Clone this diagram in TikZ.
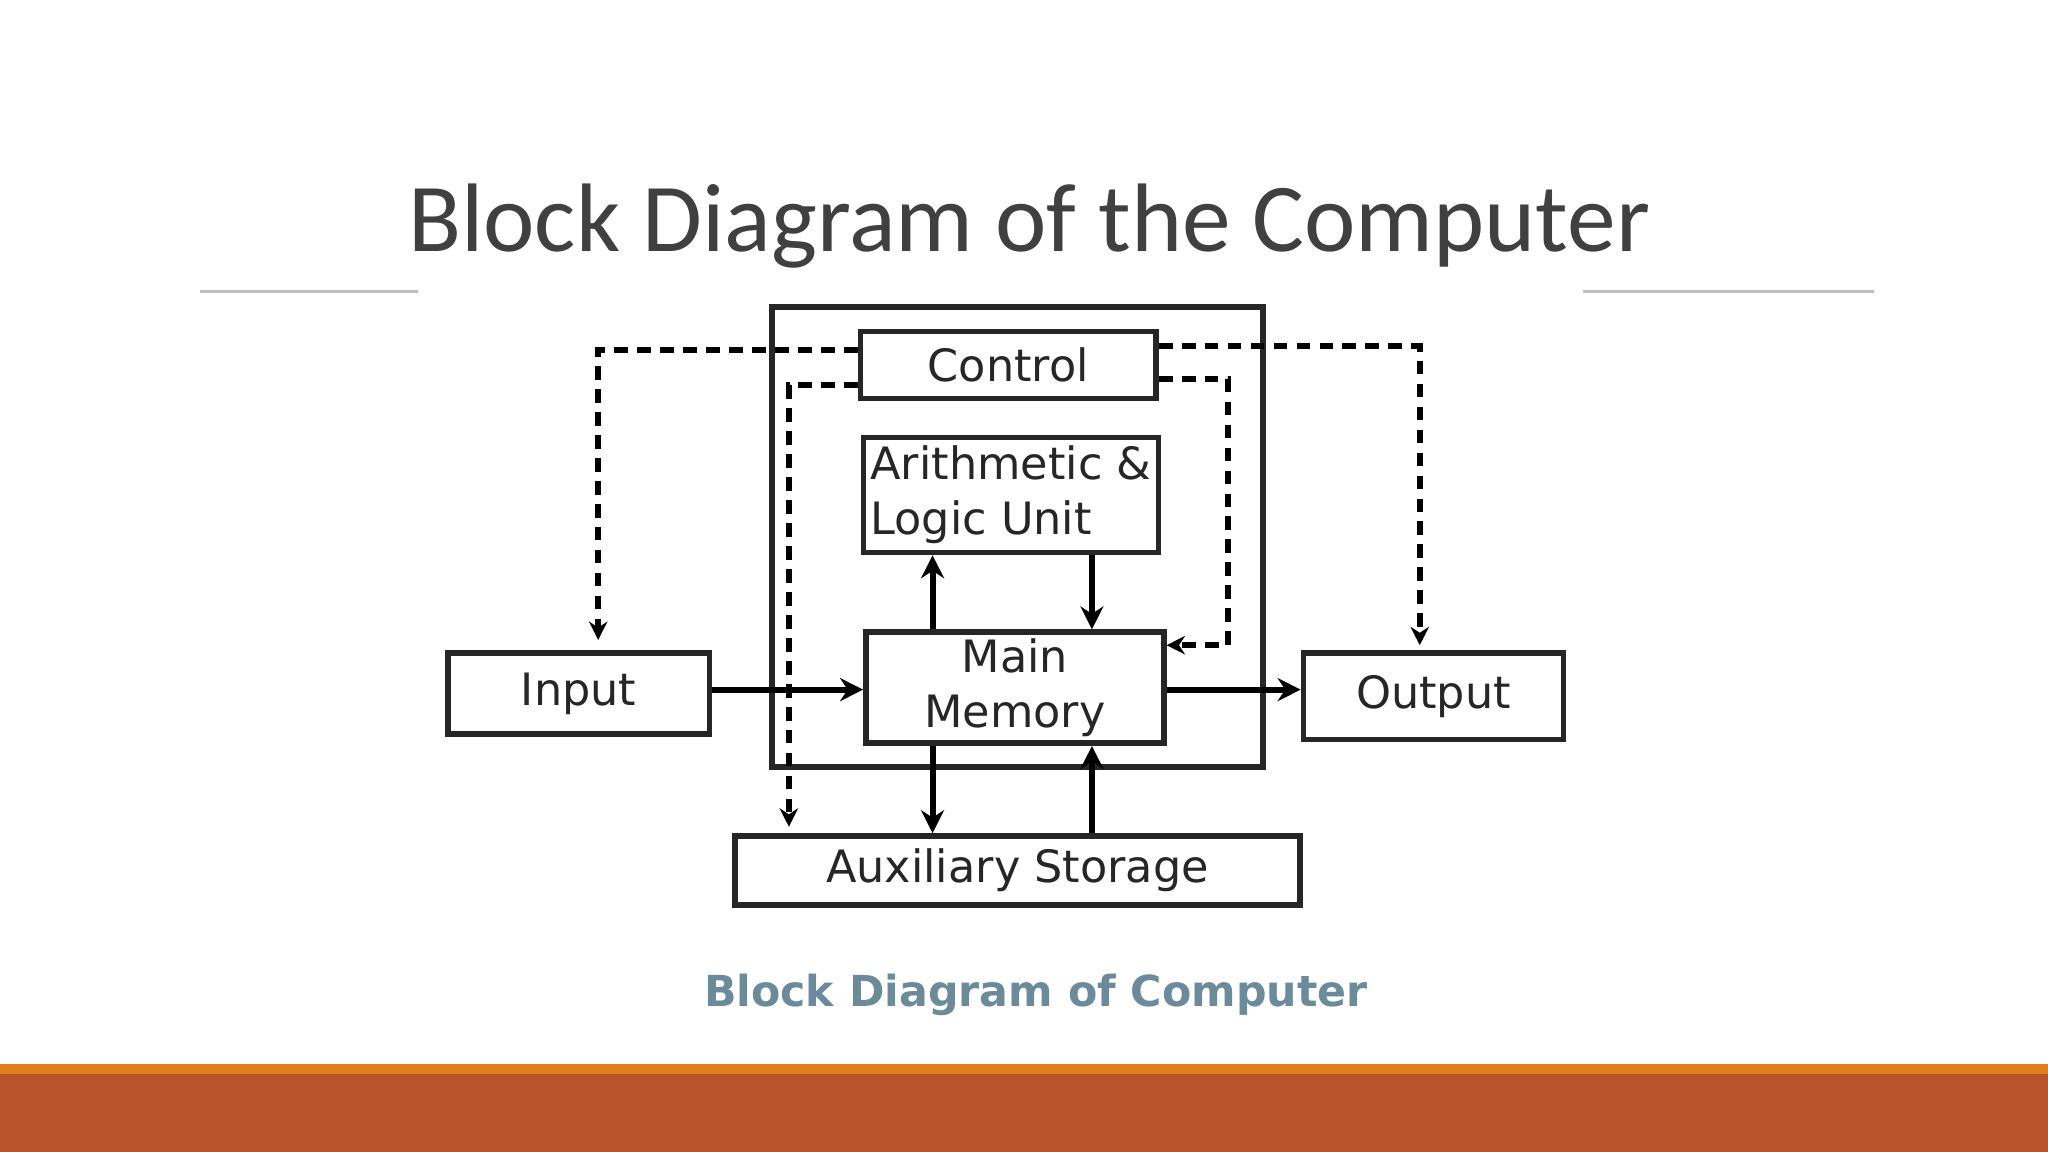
\documentclass[tikz,border=0pt]{standalone}
\usepackage{fontspec}
\setmainfont{DejaVu Sans}
\newfontfamily\titlefont{Carlito}
\usetikzlibrary{arrows.meta}
\definecolor{titlegray}{HTML}{404040}
\definecolor{capblue}{HTML}{6B8A9A}
\definecolor{barorange}{HTML}{E0801C}
\definecolor{barrust}{HTML}{B9552B}
\begin{document}
\begin{tikzpicture}[x=0.01cm,y=-0.01cm,
  blk/.style={draw=black!85,line width=1.2pt,inner sep=0pt,font=\fontsize{9.7}{12}\selectfont,text=black!85},
  sol/.style={line width=1.3pt,-{Stealth[length=5pt,width=5pt]}},
  dsh/.style={line width=1.3pt,dash pattern=on 3pt off 2pt,-{Stealth[length=4pt,width=4pt]}}]
\useasboundingbox (0,0) rectangle (1568,882);
\fill[barorange] (0,815) rectangle (1568,822);
\fill[barrust] (0,822) rectangle (1568,882);
\node[text=titlegray,font=\titlefont\fontsize{21.2}{25}\selectfont] (title) at (788,173) {Block Diagram of the Computer};
\draw[black!25,line width=0.6pt] (153,223) -- (320,223) (1212,223) -- (1435,223);
\node[draw=black!85,line width=1.2pt,minimum width=3.76cm,minimum height=3.52cm,inner sep=0pt] (outer) at (779,411) {};
\node[blk,minimum width=2.26cm,minimum height=0.51cm] (ctrl) at (772,279.5) {Control};
\node[blk,minimum width=2.26cm,minimum height=0.88cm,align=left] (alu) at (774,379) {Arithmetic \&\\Logic Unit};
\node[blk,minimum width=2.28cm,minimum height=0.85cm,align=center] (mm) at (777,526.5) {Main\\Memory};
\node[blk,minimum width=2.00cm,minimum height=0.62cm] (in) at (443,531) {Input};
\node[blk,minimum width=1.99cm,minimum height=0.66cm] (out) at (1097.5,533) {Output};
\node[blk,minimum width=4.32cm,minimum height=0.53cm] (aux) at (779,666.5) {Auxiliary Storage};
\node[text=capblue,font=\bfseries\fontsize{9.3}{11}\selectfont] (cap) at (793,762) {Block Diagram of Computer};
% solid
\draw[sol] (in.east |- 0,528) -- (mm.west |- 0,528);
\draw[sol] (mm.east |- 0,528) -- (out.west |- 0,528);
\draw[sol] (mm.north -| 714,0) -- (alu.south -| 714,0);
\draw[sol] (alu.south -| 836,0) -- (mm.north -| 836,0);
\draw[sol] (mm.south -| 714,0) -- (aux.north -| 714,0);
\draw[sol] (aux.north -| 836,0) -- (mm.south -| 836,0);
% dashed
\coordinate (c1) at (458,268); \coordinate (c2) at (604,295);
\coordinate (c3) at (1087,265); \coordinate (c4) at (940,290); \coordinate (c5) at (940,494);
\draw[dsh] (ctrl.west |- c1) -- (c1) -- (458,490);
\draw[dsh] (ctrl.west |- c2) -- (c2) -- (604,633);
\draw[dsh] (ctrl.east |- c3) -- (c3) -- (1087,494);
\draw[dsh] (ctrl.east |- c4) -- (c4) -- (c5) -- (mm.east |- c5);
\end{tikzpicture}
\end{document}
